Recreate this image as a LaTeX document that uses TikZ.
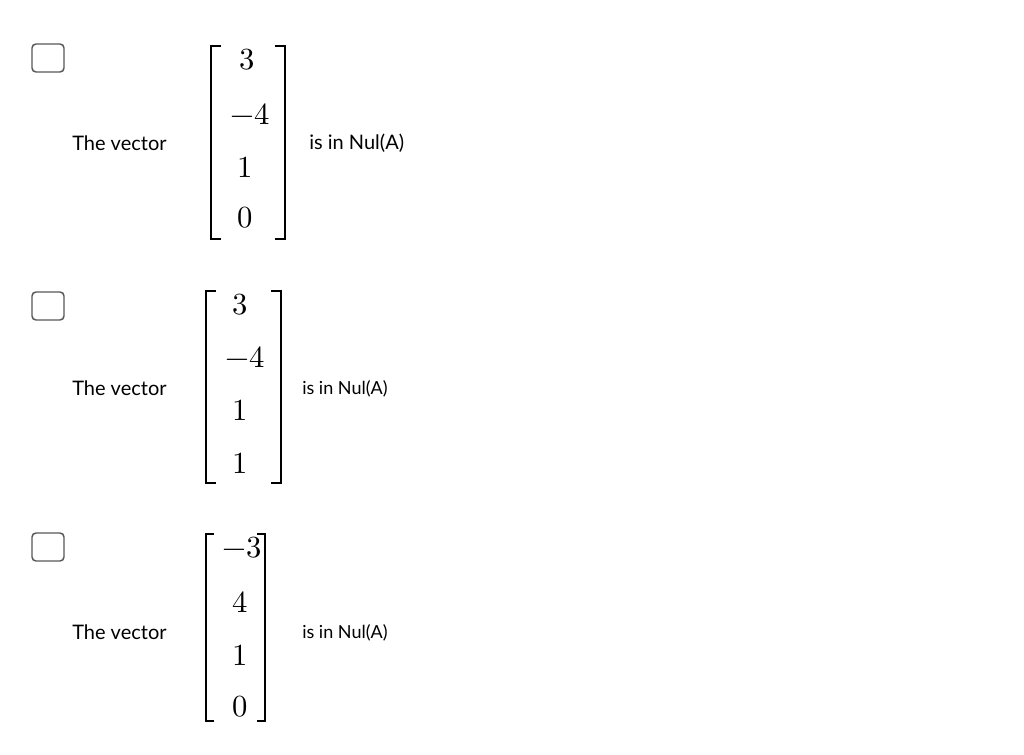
\documentclass[tikz,border=0pt]{standalone}
\usepackage{fontspec}
\setmainfont{Lato}
\usepackage{unicode-math}
\setmathfont{Latin Modern Math}
\begin{document}
\begin{tikzpicture}[x=0.75pt,y=-0.75pt,
  cb/.style={draw=gray!70!black,line width=1.1pt,rounded corners=3pt},
  lab/.style={anchor=west,font=\fontsize{15}{18}\selectfont,inner sep=0},
  lab2/.style={anchor=west,font=\fontsize{13.5}{16}\selectfont,inner sep=0},
  ent/.style={font=\fontsize{23}{28}\selectfont,inner sep=0},
  br/.style={line width=1.5pt}]
\path[fill=white] (0,0) rectangle (1024,755);
\foreach \y in {44,292,533}{\draw[cb] (32,\y) rectangle (64,\y+28);}
% matrix 1
\node[lab] (t1) at (72,143) {The vector};
\node[lab] (n1) at (309,143) {is in Nul(A)};
\draw[br] (221,46) -- (211,46) -- (211,239) -- (221,239);
\draw[br] (275,46) -- (285,46) -- (285,239) -- (275,239);
\node[ent] (a1) at (247,60) {$3$};
\node[ent] (a2) at (250,114) {$-4$};
\node[ent] (a3) at (245,167) {$1$};
\node[ent] (a4) at (245,218) {$0$};
% matrix 2
\node[lab] (t2) at (72,388) {The vector};
\node[lab2] (n2) at (302,389) {is in Nul(A)};
\draw[br] (216,291) -- (206,291) -- (206,483) -- (216,483);
\draw[br] (271,291) -- (281,291) -- (281,483) -- (271,483);
\node[ent] (b1) at (240,305) {$3$};
\node[ent] (b2) at (245,357) {$-4$};
\node[ent] (b3) at (240,410) {$1$};
\node[ent] (b4) at (240,463) {$1$};
% matrix 3
\node[lab] (t3) at (72,632) {The vector};
\node[lab2] (n3) at (302,633) {is in Nul(A)};
\draw[br] (214,534) -- (206,534) -- (206,721) -- (214,721);
\draw[br] (257,534) -- (265,534) -- (265,721) -- (257,721);
\node[ent] (c1) at (242,548) {$-3$};
\node[ent] (c2) at (240,602) {$4$};
\node[ent] (c3) at (240,655) {$1$};
\node[ent] (c4) at (240,707) {$0$};
\end{tikzpicture}
\end{document}
